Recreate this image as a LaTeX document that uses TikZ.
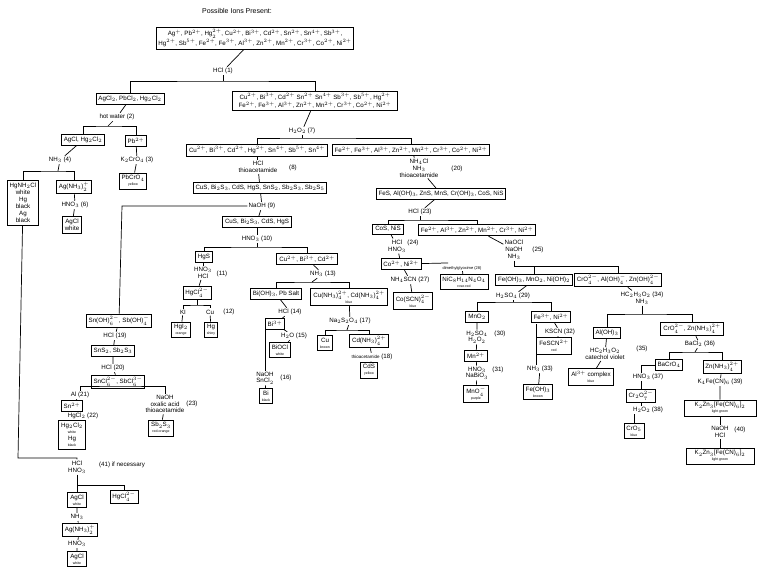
\documentclass[tikz,border=0pt]{standalone}
\usepackage{fontspec}
\setmainfont{Liberation Sans}
\begin{document}
\begin{tikzpicture}[x=1pt,y=-1pt,
  bx/.style={draw,line width=0.9pt,inner sep=2.4pt,align=center,font=\fontsize{6.2}{7}\selectfont},
  lb/.style={inner sep=1pt,align=center,font=\fontsize{6.2}{6.8}\selectfont},
  every path/.style={line width=0.7pt}]
\useasboundingbox (0,0) rectangle (768,585);
% top
\node[lb,font=\fontsize{7}{8}\selectfont] (title) at (237,11) {Possible Ions Present:};
\node[bx,minimum width=190] (ions) at (255,38) {Ag$^{+}$, Pb$^{2+}$, Hg$_2^{2+}$, Cu$^{2+}$, Bi$^{3+}$, Cd$^{2+}$, Sn$^{2+}$, Sn$^{4+}$, Sb$^{3+}$,\\ Hg$^{2+}$, Sb$^{5+}$, Fe$^{2+}$, Fe$^{3+}$, Al$^{3+}$, Zn$^{2+}$, Mn$^{2+}$, Cr$^{3+}$, Co$^{2+}$, Ni$^{2+}$};
\node[lb] (l1) at (223,71) {HCl (1)};
\coordinate (s1) at (223,81);
\node[bx] (agcl) at (130,99) {AgCl$_2$, PbCl$_2$, Hg$_2$Cl$_2$};
\node[bx,minimum width=165] (big) at (315,101) {Cu$^{2+}$, Bi$^{3+}$, Cd$^{2+}$ Sn$^{2+}$ Sn$^{4+}$ Sb$^{3+}$, Sb$^{5+}$, Hg$^{2+}$\\ Fe$^{2+}$, Fe$^{3+}$, Al$^{3+}$, Zn$^{2+}$, Mn$^{2+}$, Cr$^{3+}$, Co$^{2+}$, Ni$^{2+}$};
\draw (ions) -- (l1); \draw (l1) -- (s1); \draw (agcl) |- (s1) -| (big);
% group 1
\node[lb] (l2) at (117,117) {hot water (2)};
\coordinate (s2) at (108,126);
\node[bx] (agclhg) at (83,140) {AgCl, Hg$_2$Cl$_2$};
\node[bx] (pb) at (136,141) {Pb$^{2+}$};
\draw (agcl) -- (l2); \draw (l2) -- (s2); \draw (agclhg) |- (s2) -| (pb);
\node[lb] (l3) at (137,160) {K$_2$CrO$_4$ (3)};
\node[bx] (pbcro4) at (133,181) {PbCrO$_4$\\[-1pt]{\fontsize{3.5}{4}\selectfont yellow}};
\draw (pb) -- (l3) -- (pbcro4);
\node[lb] (l4) at (60,160) {NH$_3$ (4)};
\coordinate (s4) at (58,171);
\node[bx] (hgnh2) at (23,203) {HgNH$_2$Cl\\white\\Hg\\black\\Ag\\black};
\node[bx] (agnh3) at (74,187) {Ag(NH$_3$)$_2^{+}$};
\draw (agclhg) -- (l4); \draw (l4) -- (s4); \draw (hgnh2) |- (s4) -| (agnh3);
\node[lb] (l6) at (75,205) {HNO$_3$ (6)};
\node[bx] (agclw) at (72,225) {AgCl\\white};
\draw (agnh3) -- (l6) -- (agclw);
% group 2 / 3 split
\node[lb] (l7) at (302,131) {H$_2$O$_2$ (7)};
\coordinate (s7) at (302,138);
\node[bx] (g2) at (257,150) {Cu$^{2+}$, Bi$^{3+}$, Cd$^{2+}$, Hg$^{2+}$, Sn$^{4+}$, Sb$^{5+}$, Sn$^{4+}$};
\node[bx] (g3) at (411,150) {Fe$^{2+}$, Fe$^{3+}$, Al$^{3+}$, Zn$^{2+}$, Mn$^{2+}$, Cr$^{3+}$, Co$^{2+}$, Ni$^{2+}$};
\draw (big) -- (l7); \draw (l7) -- (s7); \draw (g2) |- (s7) -| (g3);
\node[lb] (l8) at (258,167) {HCl\\thioacetamide};
\node[lb] (n8) at (293,168) {(8)};
\node[bx] (sulf) at (260,188) {CuS, Bi$_2$S$_3$, CdS, HgS, SnS$_2$, Sb$_2$S$_3$, Sb$_2$S$_5$};
\draw (g2) -- (l8) -- (sulf);
\node[lb] (l9) at (262,206) {NaOH (9)};
\node[bx] (sulf2) at (257,222) {CuS, Bi$_2$S$_3$, CdS, HgS};
\draw (sulf) -- (l9) -- (sulf2);
\node[lb] (l10) at (257,239) {HNO$_3$ (10)};
\coordinate (s10) at (257,247);
\node[bx] (hgs) at (204,257) {HgS};
\node[bx] (cubicd) at (307,259) {Cu$^{2+}$, Bi$^{3+}$, Cd$^{2+}$};
\draw (sulf2) -- (l10); \draw (l10) -- (s10); \draw (hgs) |- (s10) -| (cubicd);
\node[lb] (l11) at (203,273) {HNO$_3$\\HCl};
\node[lb] (n11) at (222,274) {(11)};
\node[bx] (hgcl4) at (197,293) {HgCl$_4^{2-}$};
\draw (hgs) -- (l11) -- (hgcl4);
\coordinate (s12) at (197,305);
\node[lb] (ki) at (183,312) {KI};
\node[lb] (cu12) at (210,312) {Cu};
\node[lb] (n12) at (229,312) {(12)};
\node[bx] (hgi2) at (181,330) {HgI$_2$\\[-1pt]{\fontsize{3.5}{4}\selectfont orange}};
\node[bx] (hgsh) at (211,330) {Hg\\[-1pt]{\fontsize{3.5}{4}\selectfont shiny}};
\draw (hgcl4) -- (s12); \draw (ki) |- (s12) -| (cu12);
\draw (ki) -- (hgi2); \draw (cu12) -- (hgsh);
\node[lb] (l13) at (323,274) {NH$_3$ (13)};
\coordinate (s13) at (312,282);
\node[bx] (bioh) at (276,294) {Bi(OH)$_3$, Pb Salt};
\node[bx] (cunh3) at (349,297) {Cu(NH$_3$)$_4^{2+}$, Cd(NH$_3$)$_4^{2+}$\\[-1pt]{\fontsize{3.5}{4}\selectfont blue}};
\draw (cubicd) -- (l13); \draw (l13) -- (s13); \draw (bioh) |- (s13) -| (cunh3);
\node[lb] (l14) at (290,312) {HCl (14)};
\node[bx] (bi3) at (275,324) {Bi$^{3+}$};
\draw (bioh) -- (l14) -- (bi3);
\node[lb] (l15) at (294,336) {H$_2$O (15)};
\node[bx] (biocl) at (280,350) {BiOCl\\[-1pt]{\fontsize{3.5}{4}\selectfont white}};
\draw (bi3) -- (l15) -- (biocl);
\node[lb] (l16) at (265,378) {NaOH\\SnCl$_2$};
\node[lb] (n16) at (286,378) {(16)};
\node[bx] (bib) at (266,396) {Bi\\[-1pt]{\fontsize{3.5}{4}\selectfont black}};
\draw (bi3.west) -| (l16); \draw (l16) -- (bib);
\node[lb] (l17) at (350,321) {Na$_2$S$_2$O$_4$ (17)};
\coordinate (s17) at (347,330);
\node[bx] (cub) at (325,343) {Cu\\[-1pt]{\fontsize{3.5}{4}\selectfont brown}};
\node[bx] (cdnh3) at (369,341) {Cd(NH$_3$)$_4^{2+}$};
\draw (cunh3) -- (l17); \draw (l17) -- (s17); \draw (cub) |- (s17) -| (cdnh3);
\node[lb] (l18) at (372,357) {{\fontsize{4.5}{5}\selectfont thioacetamide} (18)};
\node[bx] (cds) at (369,370) {CdS\\[-1pt]{\fontsize{3.5}{4}\selectfont yellow}};
\draw (cdnh3) -- (l18) -- (cds);
% Sn / Sb branch
\node[bx] (snoh) at (119,321) {Sn(OH)$_6^{2-}$, Sb(OH)$_4^{-}$};
\coordinate (c9) at (122,206);
\draw (l9) -- (c9) -- (snoh);
\node[lb] (l19) at (115,336) {HCl (19)};
\node[bx] (sns2) at (113,351) {SnS$_2$, Sb$_2$S$_3$};
\draw (snoh) -- (l19) -- (sns2);
\node[lb] (l20) at (113,368) {HCl (20)};
\node[bx] (sncl6) at (118,382) {SnCl$_6^{2-}$, SbCl$_6^{3-}$};
\draw (sns2) -- (l20) -- (sncl6);
\node[lb] (l21) at (80,395) {Al (21)};
\node[lb] (l23) at (165,404) {NaOH\\oxalic acid\\thioacetamide};
\node[lb] (n23) at (192,404) {(23)};
\coordinate (s20) at (118,386);
\draw (l21) |- (s20) -| (l23);
\node[bx] (sn2) at (72,406) {Sn$^{2+}$};
\draw (l21) -- (sn2);
\node[lb] (l22) at (83,416) {HgCl$_2$ (22)};
\node[bx] (hg2cl2) at (72,435) {Hg$_2$Cl$_2$\\[-1pt]{\fontsize{3.5}{4}\selectfont white}\\Hg\\[-1pt]{\fontsize{3.5}{4}\selectfont black}};
\draw (sn2) -- (l22) -- (hg2cl2);
\node[bx] (sb2s3) at (161,428) {Sb$_2$S$_3$\\[-1pt]{\fontsize{3.5}{4}\selectfont red-orange}};
\draw (l23) -- (sb2s3);
% Ag bottom
\node[lb] (l41) at (77,467) {HCl\\HNO$_3$};
\node[lb] (n41) at (122,465) {(41) if necessary};
\coordinate (c41a) at (18,458);
\coordinate (c41b) at (77,458);
\draw (hgnh2) -- (c41a) -- (c41b) -- (l41);
\coordinate (s41) at (77,485);
\node[bx] (agcl3) at (77,500) {AgCl\\[-1pt]{\fontsize{3.5}{4}\selectfont white}};
\node[bx] (hgcl4b) at (124,497) {HgCl$_4^{2-}$};
\draw (l41) -- (agcl3); \draw (s41) -| (hgcl4b);
\node[lb] (nh3b) at (77,517) {NH$_3$};
\node[bx] (agnh3b) at (80,530) {Ag(NH$_3$)$_2^{+}$};
\draw (agcl3) -- (nh3b) -- (agnh3b);
\node[lb] (hno3b) at (77,544) {HNO$_3$};
\node[bx] (agcl4) at (77,559) {AgCl\\[-1pt]{\fontsize{3.5}{4}\selectfont white}};
\draw (agnh3b) -- (hno3b) -- (agcl4);
% group 3
\node[lb] (l20b) at (419,168) {NH$_4$Cl\\NH$_3$\\thioacetamide};
\node[lb] (n20b) at (457,169) {(20)};
\node[bx] (fes) at (441,194) {FeS, Al(OH)$_3$, ZnS, MnS, Cr(OH)$_3$, CoS, NiS};
\draw (g3) -- (l20b) -- (fes);
\node[lb] (l23b) at (420,212) {HCl (23)};
\coordinate (s23) at (420,220);
\node[bx] (cos) at (388,229) {CoS, NiS};
\node[bx] (fe2) at (477,230) {Fe$^{2+}$, Al$^{3+}$, Zn$^{2+}$, Mn$^{2+}$, Cr$^{3+}$, Ni$^{2+}$};
\draw (fes) -- (l23b); \draw (l23b) -- (s23); \draw (cos) |- (s23) -| (fe2);
\node[lb] (l24) at (397,246) {HCl\\HNO$_3$};
\node[lb] (n24) at (413,243) {(24)};
\node[bx] (coni) at (401,264) {Co$^{2+}$, Ni$^{2+}$};
\draw (cos) -- (l24) -- (coni);
\node[lb,font=\fontsize{4}{5}\selectfont] (l28) at (462,268) {dimethylglyoxime (28)};
\node[bx] (nidmg) at (464,282) {NiC$_8$H$_{14}$N$_4$O$_4$\\[-1pt]{\fontsize{3.5}{4}\selectfont rose-red}};
\coordinate (c28) at (448,263);
\draw (coni) -- (c28) -- (l28.west |- c28); \draw (l28) -- (nidmg);
\node[lb] (l27) at (410,280) {NH$_4$SCN (27)};
\node[bx] (coscn) at (413,301) {Co(SCN)$_4^{2-}$\\[-1pt]{\fontsize{3.5}{4}\selectfont blue}};
\draw (coni) -- (l27) -- (coscn);
\node[lb] (l25) at (514,250) {NaOCl\\NaOH\\NH$_3$};
\node[lb] (n25) at (538,250) {(25)};
\coordinate (s25) at (514,266);
\node[bx] (feoh) at (534,280) {Fe(OH)$_3$, MnO$_2$, Ni(OH)$_2$};
\node[bx] (cro4) at (618,280) {CrO$_4^{2-}$, Al(OH)$_4^{-}$, Zn(OH)$_4^{2-}$};
\draw (fe2) -- (l25); \draw (l25) -- (s25) -| (cro4); \draw (s25) -| (feoh);
\node[lb] (l29) at (513,296) {H$_2$SO$_4$ (29)};
\coordinate (s29) at (513,302);
\node[bx] (mno2) at (477,317) {MnO$_2$};
\node[bx] (feni) at (551,317) {Fe$^{3+}$, Ni$^{2+}$};
\draw (feoh) -- (l29); \draw (l29) -- (s29); \draw (mno2) |- (s29) -| (feni);
\node[lb] (l30) at (477,337) {H$_2$SO$_4$\\H$_2$O$_2$};
\node[lb] (n30) at (500,334) {(30)};
\node[bx] (mn2) at (476,356) {Mn$^{2+}$};
\draw (mno2) -- (l30) -- (mn2);
\node[lb] (l31) at (477,373) {HNO$_3$\\NaBiO$_3$};
\node[lb] (n31) at (498,370) {(31)};
\node[bx] (mno4) at (476,394) {MnO$_4^{-}$\\[-1pt]{\fontsize{3.5}{4}\selectfont purple}};
\draw (mn2) -- (l31) -- (mno4);
\node[lb] (l32) at (560,332) {KSCN (32)};
\node[bx] (fescn) at (554,346) {FeSCN$^{2+}$\\[-1pt]{\fontsize{3.5}{4}\selectfont red}};
\draw (feni) -- (l32) -- (fescn);
\node[lb] (l33) at (540,369) {NH$_3$ (33)};
\node[bx] (feoh3) at (538,392) {Fe(OH)$_3$\\[-1pt]{\fontsize{3.5}{4}\selectfont brown}};
\coordinate (c33) at (536,324);
\draw (c33) -- (l33.north -| c33); \draw (l33) -- (feoh3);
\node[lb] (l34) at (642,298) {HC$_2$H$_3$O$_2$ (34)\\NH$_3$\hspace{16pt}};
\coordinate (s34) at (642,314);
\node[bx] (aloh) at (607,333) {Al(OH)$_3$};
\node[bx] (crzn) at (692,329) {CrO$_4^{2-}$, Zn(NH$_3$)$_4^{2+}$};
\draw (cro4) -- (l34); \draw (l34) -- (s34); \draw (aloh) |- (s34) -| (crzn);
\node[lb] (l35) at (605,354) {HC$_2$H$_3$O$_2$\\catechol violet};
\node[lb] (n35) at (642,349) {(35)};
\node[bx] (alc) at (591,377) {Al$^{3+}$ complex\\[-1pt]{\fontsize{3.5}{4}\selectfont blue}};
\draw (aloh) -- (l35) -- (alc);
\node[lb] (l36) at (700,344) {BaCl$_2$ (36)};
\coordinate (s36) at (695,352);
\node[bx] (bacro4) at (669,365) {BaCrO$_4$};
\node[bx] (znnh3) at (722,367) {Zn(NH$_3$)$_4^{2+}$};
\draw (crzn) -- (l36); \draw (l36) -- (s36); \draw (bacro4) |- (s36) -| (znnh3);
\node[lb] (l37) at (648,377) {HNO$_3$ (37)};
\node[bx] (cr2o7) at (641,396) {Cr$_2$O$_7^{2-}$};
\draw (bacro4.west) -| (l37.north -| cr2o7); \draw (l37.south -| cr2o7) -- (cr2o7);
\node[lb] (l38) at (648,410) {H$_2$O$_2$ (38)};
\node[bx] (cro5) at (634,431) {CrO$_5$\\[-1pt]{\fontsize{3.5}{4}\selectfont blue}};
\draw (cr2o7) -- (l38.north -| cr2o7); \draw (l38.south -| cro5) -- (cro5);
\node[lb] (l39) at (720,382) {K$_4$Fe(CN)$_6$ (39)};
\node[bx,minimum width=72] (kzn) at (720,408) {K$_2$Zn$_3$[Fe(CN)$_6$]$_2$\\[-1pt]{\fontsize{3.5}{4}\selectfont light green}};
\draw (znnh3) -- (l39) -- (kzn);
\node[lb] (l40) at (720,432) {NaOH\\HCl};
\node[lb] (n40) at (740,430) {(40)};
\node[bx,minimum width=68] (kzn2) at (720,456) {K$_2$Zn$_3$[Fe(CN)$_6$]$_2$\\[-1pt]{\fontsize{3.5}{4}\selectfont light green}};
\draw (kzn) -- (l40) -- (kzn2);
\end{tikzpicture}
\end{document}
